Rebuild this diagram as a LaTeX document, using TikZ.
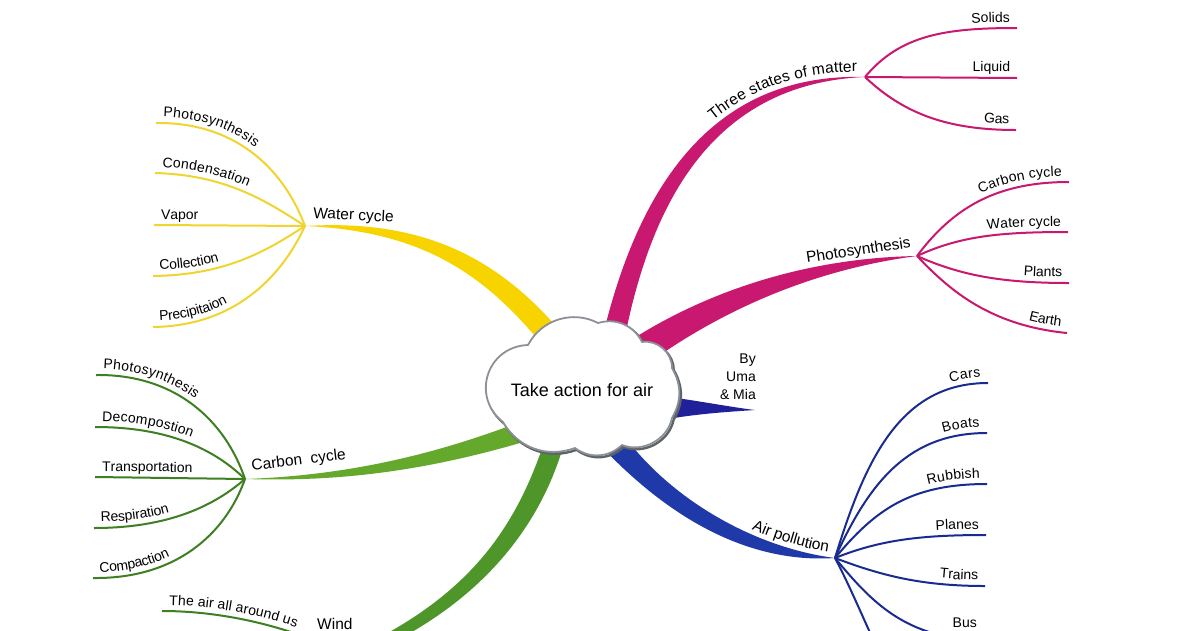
\documentclass[tikz,border=0pt]{standalone}
\usepackage{fontspec}
\setmainfont{Liberation Sans}
\usetikzlibrary{decorations.text}
\definecolor{yel}{HTML}{F7D400}
\definecolor{yelline}{HTML}{F0D530}
\definecolor{mag}{HTML}{C8186F}
\definecolor{blu}{HTML}{1F3AA8}
\definecolor{bluline}{HTML}{1A2B90}
\definecolor{bydark}{HTML}{20209A}
\definecolor{grn}{HTML}{64A82C}
\definecolor{grnwind}{HTML}{4F962A}
\definecolor{grnline}{HTML}{3E7F22}
\definecolor{cloudline}{HTML}{8C9097}
\definecolor{cloudshadow}{HTML}{5F6368}
\newcommand\sublbl{\fontsize{14}{16}\selectfont}
\newcommand\mainlbl{\fontsize{15.5}{18}\selectfont}
\newcommand\cloudoutline{(528,345) to[bend left=45] (598,323) to[bend left=40] (642,342) to[bend left=50] (672,368) to[bend left=30] (672,418) to[bend left=50] (622,445) to[bend left=40] (575,448) to[bend left=40] (503,422) to[bend left=70, looseness=1.3] (528,345) -- cycle}
\begin{document}
\begin{tikzpicture}[x=1pt,y=-1pt,
  subline/.style={line width=2pt},
  ltext/.style={decorate, decoration={text along path, text align={left indent=7pt}, raise=6pt}},
  rtext/.style={decorate, decoration={text along path, text align={right, right indent=7pt}, raise=6pt}},
  mtext/.style={decorate, decoration={text along path, text align={right, right indent=8pt}, raise=5pt}},
  plain/.style={font=\mainlbl, inner sep=0pt},
]
\fill[white] (0,0) rectangle (1200,630);
\useasboundingbox (0,0) rectangle (1200,630);
\clip (0,0) rectangle (1200,630);

% ---------- coordinates ----------
\coordinate (wc) at (305,226);
\coordinate (wcA) at (156,123);
\coordinate (wcB) at (155,173);
\coordinate (wcC) at (154,225);
\coordinate (wcD) at (153,276);
\coordinate (wcE) at (153,327);

\coordinate (cc) at (245,479);
\coordinate (ccA) at (96,375);
\coordinate (ccB) at (95,427);
\coordinate (ccC) at (95,477);
\coordinate (ccD) at (94,528);
\coordinate (ccE) at (93,578);

\coordinate (wd) at (350,657);
\coordinate (wdA) at (162,611);

\coordinate (ts) at (865,77);
\coordinate (tsA) at (1017,28);
\coordinate (tsB) at (1017,78);
\coordinate (tsC) at (1016,130);

\coordinate (ps) at (917,256);
\coordinate (psA) at (1069,182);
\coordinate (psB) at (1068,232);
\coordinate (psC) at (1069,283);
\coordinate (psD) at (1067,333);

\coordinate (ap) at (835,558);
\coordinate (apA) at (988,383);
\coordinate (apB) at (987,433);
\coordinate (apC) at (987,484);
\coordinate (apD) at (986,535);
\coordinate (apE) at (985,586);
\coordinate (apF) at (985,640);
\coordinate (apG) at (885,665);

\coordinate (by) at (755,410);

% ---------- thick bands ----------
\fill[yel] (wc) .. controls (420,219) and (498,255) .. (566,338) -- (548,352) .. controls (485,272) and (420,231) .. (wc) -- cycle;
\fill[grn] (cc) .. controls (330,476) and (420,461) .. (525,420) -- (540,437) .. controls (430,471) and (340,482) .. (cc) -- cycle;
\fill[grnwind] (565,440) .. controls (542,525) and (480,610) .. (350,662) -- (350,652) .. controls (468,598) and (515,530) .. (545,440) -- cycle;
\fill[mag] (600,348) .. controls (630,215) and (695,72) .. (ts) .. controls (702,84) and (646,220) .. (622,352) -- cycle;
\fill[mag] (628,342) .. controls (700,295) and (800,258) .. (ps) .. controls (810,270) and (720,312) .. (650,362) -- cycle;
\fill[blu] (620,430) .. controls (665,495) and (750,547) .. (ap) .. controls (760,563) and (680,530) .. (600,445) -- cycle;
\fill[bydark] (662,396) .. controls (700,401) and (730,407) .. (by) .. controls (725,412) and (695,414) .. (662,420) -- cycle;

% ---------- water cycle ----------
\draw[yelline, subline] (wcA) .. controls (232,122) and (282,165) .. (wc);
\draw[yelline, subline] (wcB) .. controls (225,175) and (265,200) .. (wc);
\draw[yelline, subline] (wcC) -- (wc);
\draw[yelline, subline] (wcD) .. controls (225,275) and (265,252) .. (wc);
\draw[yelline, subline] (wcE) .. controls (232,326) and (280,280) .. (wc);
\path[ltext, decoration={text={|\sublbl|Photosynthesis}}] (wcA) .. controls (232,122) and (282,165) .. (wc);
\path[ltext, decoration={text={|\sublbl|Condensation}}] (wcB) .. controls (225,175) and (265,200) .. (wc);
\path[ltext, decoration={text={|\sublbl|Vapor}}] (wcC) -- (wc);
\path[ltext, decoration={text={|\sublbl|Collection}}] (wcD) .. controls (225,275) and (265,252) .. (wc);
\path[ltext, decoration={text={|\sublbl|Precipitaion}}] (wcE) .. controls (232,326) and (280,280) .. (wc);
\node[plain, anchor=base west, rotate=-3] (wcl) at (313,218) {Water cycle};

% ---------- carbon cycle ----------
\draw[grnline, subline] (ccA) .. controls (175,374) and (225,420) .. (cc);
\draw[grnline, subline] (ccB) .. controls (170,427) and (215,450) .. (cc);
\draw[grnline, subline] (ccC) -- (cc);
\draw[grnline, subline] (ccD) .. controls (170,528) and (215,505) .. (cc);
\draw[grnline, subline] (ccE) .. controls (175,579) and (225,535) .. (cc);
\path[ltext, decoration={text={|\sublbl|Photosynthesis}}] (ccA) .. controls (175,374) and (225,420) .. (cc);
\path[ltext, decoration={text={|\sublbl|Decompostion}}] (ccB) .. controls (170,427) and (215,450) .. (cc);
\path[ltext, decoration={text={|\sublbl|Transportation}}] (ccC) -- (cc);
\path[ltext, decoration={text={|\sublbl|Respiration}}] (ccD) .. controls (170,528) and (215,505) .. (cc);
\path[ltext, decoration={text={|\sublbl|Compaction}}] (ccE) .. controls (175,579) and (225,535) .. (cc);
\node[plain, anchor=base west, rotate=7] (ccl) at (252,471) {Carbon\ \ cycle};

% ---------- wind ----------
\draw[grnline, subline] (wdA) .. controls (230,611) and (300,630) .. (wd);
\path[ltext, decoration={text={|\sublbl|The air all around us}}] (wdA) .. controls (230,611) and (300,630) .. (wd);
\node[plain, anchor=base west] (wdl) at (317,629) {Wind};

% ---------- three states of matter ----------
\draw[mag, subline] (ts) .. controls (900,35) and (945,28) .. (tsA);
\draw[mag, subline] (ts) -- (tsB);
\draw[mag, subline] (ts) .. controls (905,115) and (950,130) .. (tsC);
\path[rtext, decoration={text={|\sublbl|Solids}}] (ts) .. controls (900,35) and (945,28) .. (tsA);
\path[rtext, decoration={text={|\sublbl|Liquid}}] (ts) -- (tsB);
\path[rtext, decoration={text={|\sublbl|Gas}}] (ts) .. controls (905,115) and (950,130) .. (tsC);
\path[mtext, decoration={text={|\mainlbl|Three states of matter}}] (600,348) .. controls (630,215) and (695,72) .. (ts);

% ---------- photosynthesis ----------
\draw[mag, subline] (ps) .. controls (955,205) and (1000,182) .. (psA);
\draw[mag, subline] (ps) .. controls (960,236) and (1000,232) .. (psB);
\draw[mag, subline] (ps) .. controls (960,275) and (1000,283) .. (psC);
\draw[mag, subline] (ps) .. controls (945,285) and (985,325) .. (psD);
\path[rtext, decoration={text={|\sublbl|Carbon cycle}}] (ps) .. controls (955,205) and (1000,182) .. (psA);
\path[rtext, decoration={text={|\sublbl|Water cycle}}] (ps) .. controls (960,236) and (1000,232) .. (psB);
\path[rtext, decoration={text={|\sublbl|Plants}}] (ps) .. controls (960,275) and (1000,283) .. (psC);
\path[rtext, decoration={text={|\sublbl|Earth}}] (ps) .. controls (945,285) and (985,325) .. (psD);
\node[plain, anchor=base west, rotate=8.5] (psl) at (807,263) {Photosynthesis};

% ---------- air pollution ----------
\draw[bluline, subline] (ap) .. controls (865,460) and (900,383) .. (apA);
\draw[bluline, subline] (ap) .. controls (870,480) and (910,433) .. (apB);
\draw[bluline, subline] (ap) .. controls (875,510) and (910,484) .. (apC);
\draw[bluline, subline] (ap) .. controls (880,540) and (920,535) .. (apD);
\draw[bluline, subline] (ap) .. controls (880,575) and (920,586) .. (apE);
\draw[bluline, subline] (ap) .. controls (870,600) and (905,640) .. (apF);
\draw[bluline, subline] (ap) .. controls (852,590) and (868,630) .. (apG);
\path[rtext, decoration={text={|\sublbl|Cars}}] (ap) .. controls (865,460) and (900,383) .. (apA);
\path[rtext, decoration={text={|\sublbl|Boats}}] (ap) .. controls (870,480) and (910,433) .. (apB);
\path[rtext, decoration={text={|\sublbl|Rubbish}}] (ap) .. controls (875,510) and (910,484) .. (apC);
\path[rtext, decoration={text={|\sublbl|Planes}}] (ap) .. controls (880,540) and (920,535) .. (apD);
\path[rtext, decoration={text={|\sublbl|Trains}}] (ap) .. controls (880,575) and (920,586) .. (apE);
\node[font=\sublbl, inner sep=0pt, anchor=base east] (bus) at (977,627) {Bus};
\path[mtext, decoration={text={|\mainlbl|Air pollution}}] (620,430) .. controls (665,495) and (750,547) .. (ap);

% ---------- by ----------
\node[font=\fontsize{14}{18}\selectfont, align=right, inner sep=0pt, anchor=east] (bylbl) at (756,377) {By\\Uma\\\& Mia};

% ---------- central cloud ----------
\draw[cloudshadow, line width=2.4pt, line join=round, shift={(1.6,1.8)}] \cloudoutline;
\filldraw[fill=white, draw=cloudline, line width=1.8pt, line join=round] \cloudoutline;
\node[font=\fontsize{18}{20}\selectfont, inner sep=0pt] (title) at (582,390) {Take action for air};
\end{tikzpicture}
\end{document}
